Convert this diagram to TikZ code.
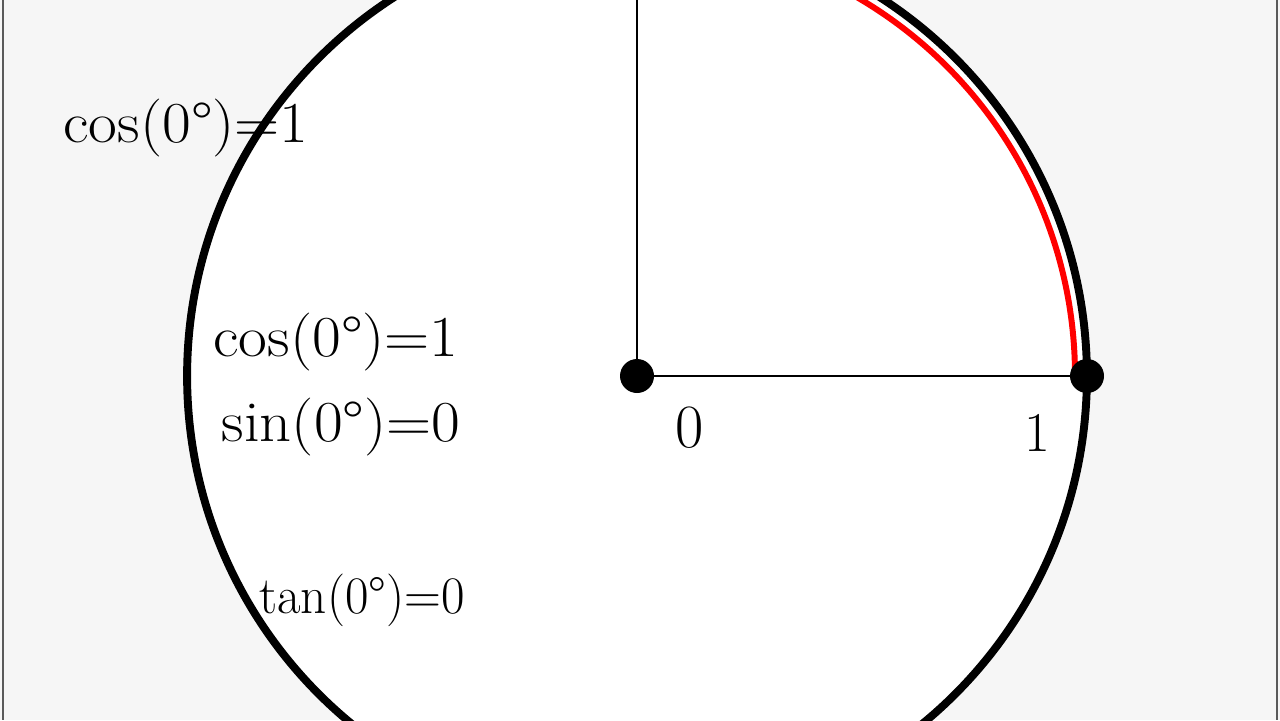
\documentclass[tikz,border=0pt]{standalone}
\usepackage{fontspec}
\usepackage{graphicx}
\definecolor{paper}{RGB}{246,246,246}
\definecolor{framegray}{RGB}{90,90,90}
\newcommand{\widen}[1]{\scalebox{1.08}[1]{#1}}
\begin{document}
\begin{tikzpicture}[x=0.02cm,y=-0.02cm,
  rim/.style={line width=4.5pt},
  sweep/.style={red,line width=3.4pt},
  axis/.style={line width=1.1pt},
  dot/.style={circle,fill=black,inner sep=0pt,minimum size=0.68cm},
  eqtext/.style={inner sep=0pt,font=\fontsize{33}{38}\selectfont}]
  \useasboundingbox (0,0) rectangle (1280,720);
  \clip (0,0) rectangle (1280,720);
  \fill[paper] (0,0) rectangle (1280,720);
  \draw[framegray,line width=1.2pt] (3,0) -- (3,720);
  \draw[framegray,line width=1.2pt] (1277,0) -- (1277,720);
  % unit circle
  \coordinate (O) at (637,376);
  \coordinate (top) at (637,-74);
  \filldraw[rim,fill=white] (O) circle (9cm);
  \draw[sweep] (1075,376) arc[start angle=0,end angle=90,radius=8.76cm];
  \node[dot] (centre) at (O) {};
  \node[dot] (one) at (1087,376) {};
  \draw[axis] (centre.center) -- (one.center);
  \draw[axis] (centre.center) -- (top);
  \node[eqtext,font=\fontsize{35}{40}\selectfont] (zeroLbl) at (690,428) {0};
  \node[eqtext,font=\fontsize{32}{36}\selectfont] (oneLbl) at (1037,433) {1};
  % values
  \node[eqtext] (cosTop) at (186,128) {\widen{cos(0°)=1}};
  \node[eqtext] (cosMid) at (336,342) {\widen{cos(0°)=1}};
  \node[eqtext] (sinMid) at (341,427) {\widen{sin(0°)=0}};
  \node[eqtext,font=\fontsize{30}{36}\selectfont] (tanLow) at (362,600) {\scalebox{0.97}[1]{tan(0°)=0}};
\end{tikzpicture}
\end{document}
